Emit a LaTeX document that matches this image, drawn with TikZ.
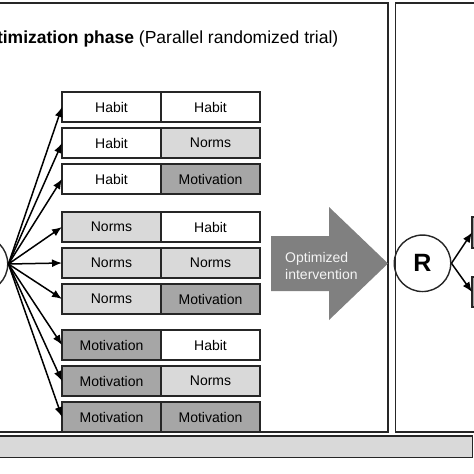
\documentclass[tikz,border=0pt]{standalone}
\usepackage{fontspec}
\setmainfont{Liberation Sans}
\usetikzlibrary{arrows.meta, positioning}
\definecolor{FrameGray}{HTML}{262626}
\definecolor{NormsGray}{HTML}{D9D9D9}
\definecolor{MotivGray}{HTML}{A6A6A6}
\definecolor{ArrowGray}{HTML}{808080}
\definecolor{LabelWhite}{HTML}{F4F4F4}

\begin{document}
\begin{tikzpicture}[x=1pt, y=-1pt,
    node distance=6pt,
    cell/.style={draw=FrameGray, line width=1.5pt, outer sep=0pt, inner sep=0pt,
      minimum width=99pt, minimum height=30pt, font=\fontsize{14}{16.6}\selectfont},
    habit/.style={cell, fill=white},
    norms/.style={cell, fill=NormsGray},
    motiv/.style={cell, fill=MotivGray},
    panel/.style={draw=FrameGray, line width=1.4pt},
    rcirc/.style={circle, draw=FrameGray, line width=1.4pt, minimum size=56.5pt, inner sep=0pt,
      font=\fontsize{25}{27}\selectfont\bfseries},
    arrow/.style={-{Latex[length=10pt, width=8pt]}, line width=1.5pt, color=black}
  ]
    \useasboundingbox (0,0) rectangle (474,474);
    \clip (0,0) rectangle (474,474);
    \fill[white] (0,0) rectangle (474,474);

    % panels and bottom bar
    \draw[panel] (-10,3) rectangle (388,432);
    \draw[panel] (395.5,3) rectangle (500,432);
    \draw[panel, fill=NormsGray] (-10,436) rectangle (472.5,457.5);

    \node[anchor=base west, inner sep=0pt, font=\fontsize{17.5}{20}\selectfont] (title)
      at (-27.5,43.5) {\textbf{Optimization phase} (Parallel randomized trial)};

    % factor combinations
    \node[habit] (r1a) at (111.5,107) {Habit};
    \node[habit, right=0pt of r1a] (r1b) {Habit};
    \node[habit, below=of r1a] (r2a) {Habit};
    \node[norms, right=0pt of r2a] (r2b) {Norms};
    \node[habit, below=of r2a] (r3a) {Habit};
    \node[motiv, right=0pt of r3a] (r3b) {Motivation};

    \node[norms, below=18pt of r3a] (r4a) {Norms};
    \node[habit, right=0pt of r4a] (r4b) {Habit};
    \node[norms, below=of r4a] (r5a) {Norms};
    \node[norms, right=0pt of r5a] (r5b) {Norms};
    \node[norms, below=of r5a] (r6a) {Norms};
    \node[motiv, right=0pt of r6a] (r6b) {Motivation};

    \node[motiv, below=16pt of r6a] (r7a) {Motivation};
    \node[habit, right=0pt of r7a] (r7b) {Habit};
    \node[motiv, below=of r7a] (r8a) {Motivation};
    \node[norms, right=0pt of r8a] (r8b) {Norms};
    \node[motiv, below=of r8a] (r9a) {Motivation};
    \node[motiv, right=0pt of r9a] (r9b) {Motivation};

    % randomisation fan
    \node[rcirc] (rand) at (-20.5,264) {};
    \draw[arrow] (rand.east) -- (r1a.west);
    \draw[arrow] (rand.east) -- (r2a.west);
    \draw[arrow] (rand.east) -- (r3a.west);
    \draw[arrow] (rand.east) -- (r4a.west);
    \draw[arrow] (rand.east) -- (r5a.west);
    \draw[arrow] (rand.east) -- (r6a.west);
    \draw[arrow] (rand.east) -- (r7a.west);
    \draw[arrow] (rand.east) -- (r8a.west);
    \draw[arrow] (rand.east) -- (r9a.west);

    % optimized intervention
    \fill[ArrowGray] (271,236) -- (329,236) -- (329,207) -- (388,263.5)
      -- (329,320) -- (329,291) -- (271,291) -- cycle;
    \node[anchor=west, inner sep=0pt, align=left, text=LabelWhite,
      font=\fontsize{14}{16.6}\selectfont] (optlabel) at (285,266) {Optimized\\intervention};

    % next phase
    \node[rcirc] (rnext) at (422.5,263.3) {R};
    \node[motiv, anchor=north west, minimum width=40pt, minimum height=31pt] (nextA) at (472,217) {};
    \node[motiv, anchor=north west, minimum width=40pt, minimum height=30pt] (nextB) at (472,277) {};
    \draw[arrow] (rnext.east) -- (nextA.west);
    \draw[arrow] (rnext.east) -- (nextB.west);
  \end{tikzpicture}
\end{document}
